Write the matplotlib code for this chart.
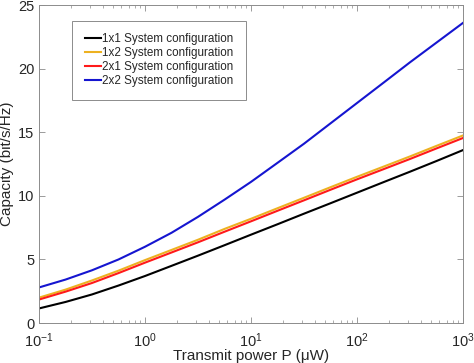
import numpy as np
from matplotlib import pyplot as plt
from matplotlib.ticker import LogLocator, NullFormatter

plt.rcParams['font.family'] = ['Liberation Sans', 'DejaVu Sans']

# transmit power (uW), quarter-decade steps, and capacity
power = [0.1, 0.178, 0.316, 0.562, 1, 1.78, 3.16, 5.62, 10,
         17.8, 31.6, 56.2, 100, 178, 316, 562, 1000]
cap_1x1 = [1.15, 1.66, 2.25, 2.95, 3.7, 4.5, 5.3, 6.12, 6.95,
           7.77, 8.6, 9.42, 10.25, 11.08, 11.9, 12.74, 13.6]
cap_1x2 = [2.0, 2.63, 3.35, 4.12, 4.95, 5.75, 6.55, 7.4, 8.2,
           9.03, 9.85, 10.68, 11.5, 12.3, 13.1, 13.93, 14.75]
cap_2x1 = [1.85, 2.47, 3.15, 3.93, 4.75, 5.55, 6.35, 7.18, 8.0,
           8.83, 9.65, 10.48, 11.3, 12.1, 12.9, 13.73, 14.55]
cap_2x2 = [2.8, 3.42, 4.15, 5.0, 6.0, 7.1, 8.35, 9.7, 11.1,
           12.6, 14.1, 15.7, 17.3, 18.9, 20.5, 22.05, 23.6]

series = [
  ("1x1 System configuration", cap_1x1, 'black'),
  ("1x2 System configuration", cap_1x2, '#EDB120'),
  ("2x1 System configuration", cap_2x1, '#FF1A1A'),
  ("2x2 System configuration", cap_2x2, '#1515D0'),
]

fig = plt.figure(figsize = (4.74, 3.63), dpi = 100)
ax = fig.add_axes([0.0823, 0.110, 0.8945, 0.876])

for label, vals, color in series:
  ax.plot(power, vals, color = color, linewidth = 1.5, label = label)

ax.set_xscale('log')
ax.set_xlim(0.1, 1000)
ax.set_ylim(0, 25)
ax.set_yticks([0, 5, 10, 15, 20, 25])
ax.xaxis.set_minor_locator(LogLocator(base = 10, subs = np.arange(2, 10)))
ax.xaxis.set_minor_formatter(NullFormatter())

text_color = '#262626'
ax.tick_params(which = 'both', direction = 'in', top = True, right = True,
               colors = '#8c8c8c', labelcolor = text_color, labelsize = 10.5)
ax.tick_params(which = 'major', length = 4, width = 0.6)
ax.tick_params(which = 'minor', length = 2.2, width = 0.5)
ax.tick_params(axis = 'x', which = 'major', pad = 6)
for sp in ax.spines.values():
  sp.set_color('#8c8c8c')
  sp.set_linewidth(0.7)

ax.set_xlabel("Transmit power P (\u03bcW)", fontsize = 11, color = text_color, labelpad = -1)
ax.set_ylabel("Capacity (bit/s/Hz)", fontsize = 11, color = text_color, labelpad = 3)

leg = ax.legend(loc = 'upper left', bbox_to_anchor = (0.078, 0.951), borderaxespad = 0,
                fontsize = 8.4, fancybox = False, edgecolor = '#8c8c8c', framealpha = 1,
                handlelength = 1.4, handletextpad = 0.1, labelspacing = 0.15,
                borderpad = 1.1)
leg.get_frame().set_linewidth(0.7)
for t in leg.get_texts():
  t.set_color(text_color)

fig.savefig('out.png', dpi = 100)
